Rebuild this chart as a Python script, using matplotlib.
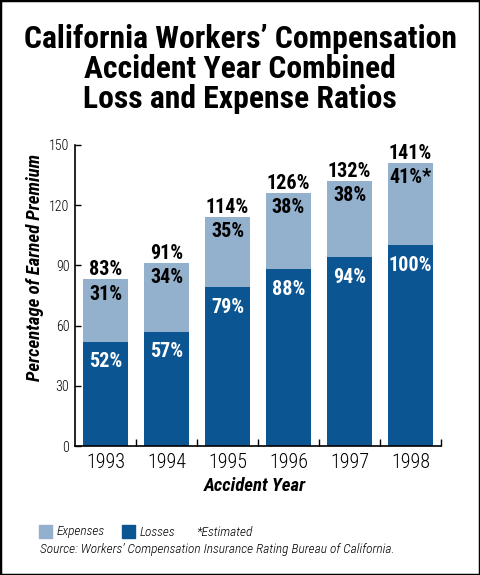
import matplotlib
matplotlib.use("Agg")
import matplotlib.pyplot as plt
from matplotlib import font_manager as fm
from matplotlib.patches import Rectangle

years = ["1993", "1994", "1995", "1996", "1997", "1998"]
losses = [52, 57, 79, 88, 94, 100]
expenses = [31, 34, 35, 38, 38, 41]
totals = [83, 91, 114, 126, 132, 141]
expense_labels = ["31%", "34%", "35%", "38%", "38%", "41%*"]
yticks = [0, 30, 60, 90, 120, 150]

names = {f.name for f in fm.fontManager.ttflist}
prefs = ["Nimbus Sans Narrow", "Liberation Sans Narrow", "Arial Narrow", "Roboto Condensed",
         "Archivo Narrow", "PT Sans Narrow", "Barlow Condensed", "DejaVu Sans"]
FONT = next(p for p in prefs if p in names)
plt.rcParams["font.family"] = [FONT, "DejaVu Sans"]

C_LOSS = "#0B5592"
C_EXP = "#93B0CC"

fig = plt.figure(figsize=(4.8, 5.75), dpi=100)
fig.patches.append(Rectangle((0, 0), 1, 1, transform=fig.transFigure,
                             fill=False, edgecolor="black", linewidth=2.5))

ax = fig.add_axes([75 / 480, 1 - 446 / 575, (441 - 75) / 480, (446 - 145) / 575])
x = list(range(len(years)))
w = 0.74
ax.bar(x, losses, width=w, color=C_LOSS, zorder=2)
ax.bar(x, expenses, width=w, bottom=losses, color=C_EXP, zorder=2)

for i in x:
    ax.annotate(f"{totals[i]}%", (i, totals[i]), xytext=(0, 7), textcoords="offset points",
                ha="center", va="center", fontsize=14.5, fontweight="bold", color="black")
    ax.annotate(expense_labels[i], (i, totals[i]), xytext=(0, -10.5), textcoords="offset points",
                ha="center", va="center", fontsize=14.5, fontweight="bold", color="black")
    ax.annotate(f"{losses[i]}%", (i, losses[i]), xytext=(0, -14.5), textcoords="offset points",
                ha="center", va="center", fontsize=14.5, fontweight="bold", color="white")

ax.set_xlim(-0.5, 5.5)
ax.set_ylim(0, 150)
ax.set_yticks(yticks)
ax.set_yticklabels([str(t) for t in yticks], fontweight="light")
ax.set_xticks(x)
ax.set_xticklabels(years, fontweight="light")
ax.set_xticks([i + 0.5 for i in x], minor=True)
ax.tick_params(axis="x", which="major", length=0, labelsize=14.5, pad=5)
ax.tick_params(axis="x", which="minor", direction="in", length=5, width=1)
ax.tick_params(axis="y", direction="in", length=4, width=1, labelsize=10, pad=4)
for s in ["top", "right"]:
    ax.spines[s].set_visible(False)
for s in ["left", "bottom"]:
    ax.spines[s].set_linewidth(1.2)

fig.text(0.5, 1 - 69 / 575, "California Workers\u2019 Compensation\nAccident Year Combined\nLoss and Expense Ratios",
         ha="center", va="center", fontsize=22.8, fontweight="bold", linespacing=1.02)
fig.text(35 / 480, 1 - 267 / 575, "Percentage of Earned Premium", rotation=90,
         ha="center", va="center", fontsize=13.5, fontweight="bold", style="italic")
fig.text(255 / 480, 1 - 486 / 575, "Accident Year", ha="center", va="center",
         fontsize=13.5, fontweight="bold", style="italic")

fig.patches.append(Rectangle((39 / 480, 1 - 538 / 575), 13 / 480, 13 / 575,
                             transform=fig.transFigure, color=C_EXP))
fig.patches.append(Rectangle((122 / 480, 1 - 538 / 575), 13 / 480, 13 / 575,
                             transform=fig.transFigure, color=C_LOSS))
fig.text(57 / 480, 1 - 532 / 575, "Expenses", ha="left", va="center", fontsize=9.6, style="italic", fontweight="light")
fig.text(140 / 480, 1 - 532 / 575, "Losses", ha="left", va="center", fontsize=9.6, style="italic", fontweight="light")
fig.text(196 / 480, 1 - 532 / 575, "*Estimated", ha="left", va="center", fontsize=9.6, style="italic", fontweight="light")
fig.text(40 / 480, 1 - 550 / 575, "Source: Workers\u2019 Compensation Insurance Rating Bureau of California.",
         ha="left", va="center", fontsize=9.6, style="italic", fontweight="light")

fig.savefig("out.png", dpi=100)
